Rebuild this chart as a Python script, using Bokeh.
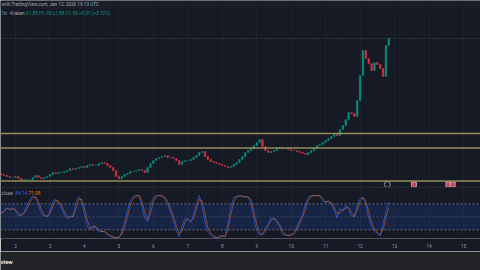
from bokeh.plotting import figure
from bokeh.models import Range1d, Span, BoxAnnotation, Label, FixedTicker, ColumnDataSource
from bokeh.layouts import column
from bokeh.embed import file_html
from bokeh.resources import INLINE

# ---------------- data ----------------
closes = [0.59, 0.58, 0.57, 0.56, 0.56, 0.57, 0.55, 0.53, 0.54, 0.54,
          0.54, 0.56, 0.58, 0.56, 0.55, 0.56, 0.57, 0.59, 0.61, 0.60,
          0.61, 0.61, 0.62, 0.63, 0.65, 0.64, 0.65, 0.66, 0.67, 0.66,
          0.68, 0.69, 0.68, 0.68, 0.70, 0.71, 0.70, 0.68, 0.66, 0.63,
          0.57, 0.55, 0.57, 0.59, 0.60, 0.62, 0.62, 0.63, 0.64, 0.63,
          0.61, 0.66, 0.70, 0.73, 0.75, 0.76, 0.77, 0.78, 0.76, 0.76,
          0.75, 0.73, 0.69, 0.72, 0.73, 0.73, 0.74, 0.76, 0.78, 0.81,
          0.82, 0.77, 0.74, 0.72, 0.71, 0.70, 0.69, 0.68, 0.67, 0.66,
          0.67, 0.69, 0.71, 0.74, 0.77, 0.81, 0.83, 0.85, 0.88, 0.91,
          0.94, 0.87, 0.83, 0.81, 0.82, 0.83, 0.85, 0.86, 0.85, 0.85,
          0.84, 0.83, 0.83, 0.82, 0.81, 0.80, 0.79, 0.81, 0.83, 0.85,
          0.88, 0.89, 0.91, 0.93, 0.95, 0.97, 1.00, 0.98, 1.04, 1.08,
          1.14, 1.21, 1.20, 1.17, 1.33, 1.58, 1.83, 1.75, 1.70, 1.63,
          1.71, 1.69, 1.65, 1.57, 1.88, 1.95]
first_open = 0.60
start_hour = 14      # first candle: Jan 1, 14:00 UTC
step_hours = 2

stoch_k = [57, 66, 71, 65, 71, 63, 52, 54, 61, 76, 90, 98, 94, 76, 57, 52, 50, 63, 86, 90,
           82, 70, 54, 45, 52, 50, 83, 97, 85, 57, 27, 20, 30, 25, 14, 17, 15, 9, 5, 3,
           1, 2, 15, 37, 65, 88, 96, 99, 99, 74, 47, 39, 75, 94, 99, 99, 98, 91, 79, 61,
           40, 17, 4, 30, 46, 44, 36, 55, 81, 99, 75, 36, 14, 8, 3, 1, 5, 6, 4, 35,
           73, 95, 97, 99, 97, 95, 97, 80, 45, 18, 8, 10, 24, 33, 48, 45, 38, 25, 10, 7,
           7, 9, 12, 27, 43, 57, 80, 95, 99, 99, 99, 98, 86, 83, 87, 79, 64, 47, 70, 63,
           76, 68, 52, 50, 77, 92, 95, 76, 46, 28, 16, 12, 6, 35, 62, 84.14]
stoch_d = [58, 62, 69, 68, 68, 67, 58, 53, 58, 69, 83, 94, 96, 85, 67, 55, 51, 57, 75, 88,
           86, 76, 62, 50, 49, 51, 67, 90, 91, 71, 42, 24, 25, 28, 20, 16, 16, 12, 7, 4,
           2, 2, 9, 26, 51, 77, 92, 98, 99, 87, 61, 43, 57, 85, 97, 99, 99, 95, 85, 70,
           51, 29, 11, 17, 38, 45, 40, 46, 68, 90, 87, 56, 25, 11, 6, 2, 3, 6, 5, 20,
           54, 84, 96, 98, 98, 96, 96, 89, 63, 32, 13, 9, 17, 29, 41, 47, 42, 32, 18, 9,
           7, 8, 11, 20, 35, 50, 69, 88, 97, 99, 99, 99, 92, 85, 85, 83, 72, 56, 59, 67,
           70, 72, 60, 51, 64, 85, 94, 86, 61, 37, 22, 14, 9, 20, 48, 71.08]

levels = [1.00, 0.855, 0.525]
day_ticks = [2, 3, 4, 5, 6, 7, 8, 9, 10, 11, 12, 13, 14, 15]
event_days = [12.79, 13.5625, 14.5625, 14.6875]
event_kind = ["circle", "flag", "flag", "flag"]

header1 = "with TradingView.com, Jan 12, 2026 19:13 UTC"
header2a = "1h \u00b7 Kraken"
header2b = "O1.88 H1.95 L1.88 C1.95 +0.07 (+3.72%)"

# ---------------- derived ----------------
times = [1 + (start_hour + step_hours * i) / 24 for i in range(len(closes))]
opens = [first_open] + closes[:-1]
bw = step_hours / 24 * 0.55

up = dict(x=[], top=[], bottom=[])
dn = dict(x=[], top=[], bottom=[])
for t, o, c in zip(times, opens, closes):
    d = up if c >= o else dn
    d["x"].append(t)
    d["top"].append(max(o, c))
    d["bottom"].append(min(o, c))

BG = "#161a25"
GREEN = "#089981"
RED = "#f23645"
FONT = "Roboto"
FS = "4.7px"

p = figure(frame_width=480, frame_height=238,
           x_range=Range1d(1.5647, 15.494), y_range=Range1d(-0.05, 2.33),
           output_backend="svg", toolbar_location=None,
           min_border_left=0, min_border_right=0, min_border_top=0, min_border_bottom=13,
           y_axis_location=None, background_fill_color=BG, border_fill_color=BG,
           outline_line_color=None)
p.extra_y_ranges = {"stoch": Range1d(-0.08, 549.2)}

p.xaxis.ticker = FixedTicker(ticks=day_ticks)
p.xaxis.axis_line_color = None
p.xaxis.major_tick_line_color = None
p.xaxis.minor_tick_line_color = None
p.xaxis.major_tick_out = 0
p.xaxis.major_tick_in = 0
p.xaxis.minor_tick_out = 0
p.xaxis.major_label_text_font_size = FS
p.xaxis.major_label_text_font = FONT
p.xaxis.major_label_text_color = "#9598a1"
p.xaxis.major_label_standoff = 5
p.xgrid.ticker = FixedTicker(ticks=day_ticks)
p.xgrid.grid_line_color = "#1d212c"
p.ygrid.visible = False

# header bar
p.add_layout(BoxAnnotation(bottom=2.24, fill_color="#1a1d27", fill_alpha=1, line_color=None))

# stoch band and guides
p.add_layout(BoxAnnotation(bottom=20, top=80, y_range_name="stoch",
                           fill_color="#2962ff", fill_alpha=0.14, line_color=None))
for lv, a in [(80, 0.85), (50, 0.4), (20, 0.85)]:
    p.add_layout(Span(location=lv, dimension="width", y_range_name="stoch",
                      line_color="#787b86", line_alpha=a, line_dash="2 2", line_width=1))
# pane separator
p.add_layout(Span(location=118, dimension="width", y_range_name="stoch",
                  line_color="#262a35", line_width=1))

# horizontal levels
for lv in levels:
    p.add_layout(Span(location=lv, dimension="width", line_color="#9c925c",
                      line_width=1.5, line_alpha=0.95))
# last price line
p.add_layout(Span(location=closes[-1], dimension="width", line_color="#5d6472",
                  line_dash="1 2", line_width=1, line_alpha=0.7))

# candles
p.vbar(x="x", top="top", bottom="bottom", width=bw, source=ColumnDataSource(up),
       fill_color=GREEN, line_color=GREEN, line_width=0.4, fill_alpha=0.95)
p.vbar(x="x", top="top", bottom="bottom", width=bw, source=ColumnDataSource(dn),
       fill_color=RED, line_color=RED, line_width=0.4, fill_alpha=0.9)

# stoch RSI lines
p.line(times, stoch_k, y_range_name="stoch", line_color="#2962ff", line_width=1, line_alpha=0.7)
p.line(times, stoch_d, y_range_name="stoch", line_color="#ff6d00", line_width=1, line_alpha=0.55)

# event markers
cx = [d for d, k in zip(event_days, event_kind) if k == "circle"]
fx = [d for d, k in zip(event_days, event_kind) if k == "flag"]
p.scatter(cx, [0.49] * len(cx), marker="circle", size=6, fill_color=BG,
          line_color="#9598a1", line_width=1)
p.scatter(fx, [0.49] * len(fx), marker="square", size=5, fill_color="#c94458",
          line_color="#e8e8ee", line_width=0.6)

# texts
p.add_layout(Label(x=1, y=2.29, x_units="screen", text=header1, text_font=FONT,
                   text_font_size=FS, text_color="#a3a6af", text_baseline="middle"))
p.add_layout(Label(x=1, y=2.20, x_units="screen", text=header2a, text_font=FONT,
                   text_font_size=FS, text_color="#a3a6af", text_baseline="middle"))
p.add_layout(Label(x=25, y=2.20, x_units="screen", text=header2b, text_font=FONT,
                   text_font_size=FS, text_color=GREEN, text_baseline="middle"))
p.add_layout(Label(x=1, y=104, x_units="screen", y_range_name="stoch", text="close",
                   text_font=FONT, text_font_size=FS, text_color="#a3a6af",
                   text_baseline="middle"))
p.add_layout(Label(x=15, y=104, x_units="screen", y_range_name="stoch", text="%.2f" % stoch_k[-1],
                   text_font=FONT, text_font_size=FS, text_color="#2962ff",
                   text_baseline="middle"))
p.add_layout(Label(x=28, y=104, x_units="screen", y_range_name="stoch", text="%.2f" % stoch_d[-1],
                   text_font=FONT, text_font_size=FS, text_color="#ff6d00",
                   text_baseline="middle"))

# footer
f = figure(width=480, height=19, x_range=Range1d(0, 1), y_range=Range1d(0, 1),
           output_backend="svg", toolbar_location=None, min_border=0,
           x_axis_location=None, y_axis_location=None,
           background_fill_color="#222326", border_fill_color="#222326",
           outline_line_color=None)
f.xgrid.visible = False
f.ygrid.visible = False
f.add_layout(Label(x=0, y=0.5, x_units="screen", text="view", text_font=FONT,
                   text_font_size="6px", text_font_style="bold", text_color="#e8e8e8",
                   text_baseline="middle"))

layout = column(p, f, spacing=0)
open("out.html", "w").write(file_html(layout, INLINE))
